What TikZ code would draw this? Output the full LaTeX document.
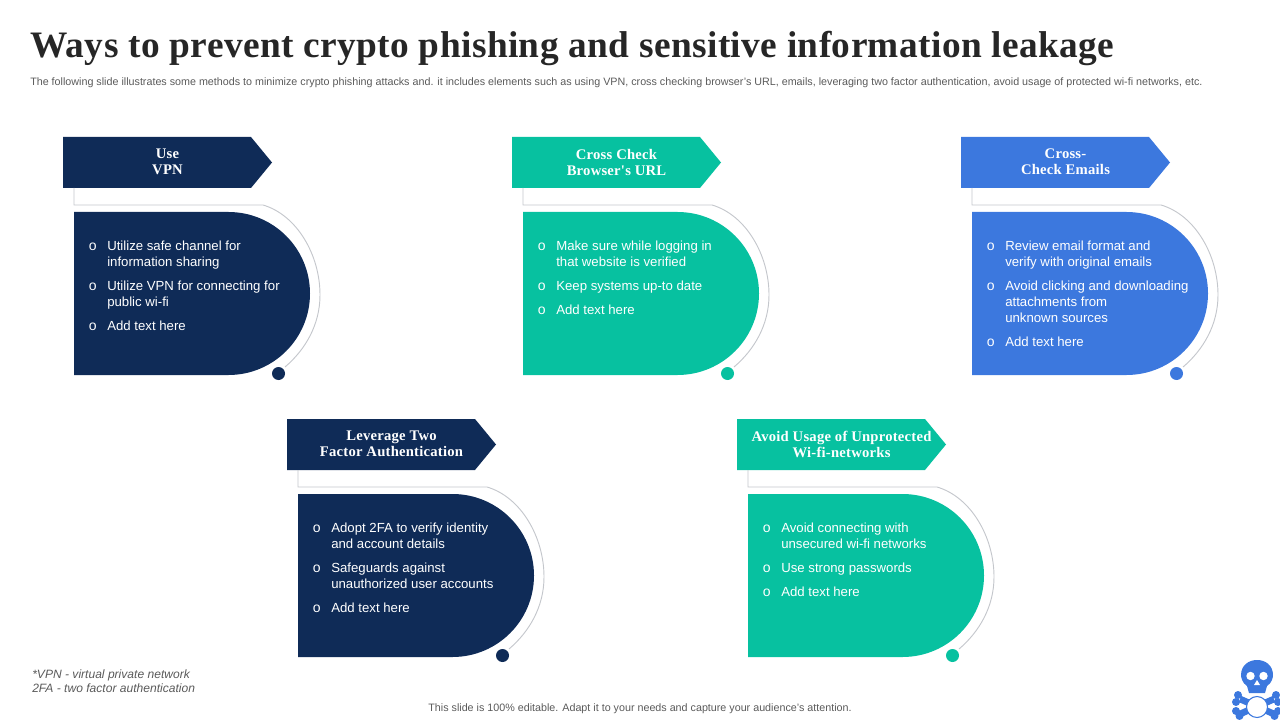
\documentclass[tikz,border=0pt]{standalone}
\usepackage{fontspec}
\setmainfont{Liberation Sans}
\newfontfamily\serifhead[LetterSpace=1.1]{Liberation Serif}
\newfontfamily\seriflabel[LetterSpace=1.5]{Liberation Serif}
\usepackage{xcolor}
\definecolor{slideNavy}{HTML}{0F2B57}
\definecolor{slideTeal}{HTML}{07C1A0}
\definecolor{slideBlue}{HTML}{3C78DE}
\definecolor{slideInk}{HTML}{262626}
\definecolor{slideGrey}{HTML}{5A5A5A}
\definecolor{slideRule}{HTML}{C4C7CC}
\tikzset{
	itemtext/.style={anchor=north west,inner sep=0,align=left,text=white,font=\fontsize{9.9}{12}\selectfont},
	itembullet/.style={anchor=north west,inner sep=0,text=white,font=\fontsize{10.5}{12}\selectfont},
	cardtitle/.style={inner sep=0,align=center,text=white,font=\seriflabel\bfseries\fontsize{11}{12}\selectfont},
	cardrule/.style={draw=slideRule,line width=0.7pt},
	footnote/.style={anchor=west,inner sep=0,text=slideGrey,font=\itshape\fontsize{9.05}{10.5}\selectfont}
}
\newcommand{\waybullet}[3]{
	\node[itembullet] (#1o) at (25.5,#2) {\strut o};
	\node[itemtext] (#1t) at (44,#2) {\strut #3};
}
\newcommand{\waycard}[6]{
	\begin{scope}[shift={(#2,#3)}]
		\coordinate (#1a) at (11,51);
		\coordinate (#1b) at (200,68);
		\coordinate (#1c) at (257,158);
		\fill[#4] (0,0) -- (188,0) -- (209,25.5) -- (188,51) -- (0,51) -- cycle;
		\node[cardtitle] (#1h) at (104.5,25) {#5};
		\draw[cardrule] (#1a) -- (11,68) -- (#1b) .. controls (234,78) and (257,118) .. (#1c) .. controls (257,188) and (242,213) .. (222,230);
		\fill[#4] (11,75) -- (165.5,75) arc[start angle=-90,end angle=90,radius=81.5] -- (11,238) -- cycle;
		\node[circle,fill=#4,minimum size=9.75pt,inner sep=0] (#1d) at (215.5,236.5) {};
		#6
	\end{scope}
}

\begin{document}
\begin{tikzpicture}[x=0.75pt,y=-0.75pt]
	\useasboundingbox (0,0) rectangle (1280,720);
	\node[anchor=base west,inner sep=0,text=slideInk,font=\serifhead\bfseries\fontsize{28}{30}\selectfont] (title) at (30,58) {Ways to prevent crypto phishing and sensitive information leakage};
	\node[anchor=base west,inner sep=0,text=slideGrey,font=\fontsize{8.05}{10}\selectfont] (intro) at (30,86) {The following slide illustrates some methods to minimize crypto phishing attacks and. it includes elements such as using VPN, cross checking browser's URL, emails, leveraging two factor authentication, avoid usage of protected wi-fi networks, etc.};

	\waycard{vpn}{63}{137}{slideNavy}{Use\\VPN}{
		\waybullet{vpnA}{102}{Utilize safe channel for\\information sharing}
		\waybullet{vpnB}{142}{Utilize VPN for connecting for\\public wi-fi}
		\waybullet{vpnC}{182}{Add text here}
	}
	\waycard{url}{512}{137}{slideTeal}{Cross Check\\Browser's URL}{
		\waybullet{urlA}{102}{Make sure while logging in\\that website is verified}
		\waybullet{urlB}{142}{Keep systems up-to date}
		\waybullet{urlC}{166}{Add text here}
	}
	\waycard{mail}{961}{137}{slideBlue}{Cross-\\Check Emails}{
		\waybullet{mailA}{102}{Review email format and\\verify with original emails}
		\waybullet{mailB}{142}{Avoid clicking and downloading\\attachments from\\unknown sources}
		\waybullet{mailC}{198}{Add text here}
	}
	\waycard{twofa}{287}{419}{slideNavy}{Leverage Two\\Factor Authentication}{
		\waybullet{twofaA}{102}{Adopt 2FA to verify identity\\and account details}
		\waybullet{twofaB}{142}{Safeguards against\\unauthorized user accounts}
		\waybullet{twofaC}{182}{Add text here}
	}
	\waycard{wifi}{737}{419}{slideTeal}{Avoid Usage of Unprotected\\Wi-fi-networks}{
		\waybullet{wifiA}{102}{Avoid connecting with\\unsecured wi-fi networks}
		\waybullet{wifiB}{142}{Use strong passwords}
		\waybullet{wifiC}{166}{Add text here}
	}

	\node[footnote] (noteA) at (32,675) {*VPN - virtual private network};
	\node[footnote] (noteB) at (32,688) {2FA - two factor authentication};
	\node[inner sep=0,text=slideGrey,font=\fontsize{8.05}{10}\selectfont] (foot) at (640,709) {This slide is 100\% editable. Adapt it to your needs and capture your audience's attention.};

	% skull
	\draw[slideBlue,line width=5pt] (1240,699) -- (1274,714);
	\draw[slideBlue,line width=5pt] (1274,699) -- (1240,714);
	\foreach \bx/\by in {1238/695,1236/702,1236/711,1239.5/716,1276/695,1278/702,1278/711,1274.5/716}
		\fill[slideBlue] (\bx,\by) circle (4);
	\fill[slideBlue] (1249,693) -- (1265,693) -- (1267,686) .. controls (1272,683) and (1273,677) .. (1273,675) .. controls (1273,665) and (1265,660) .. (1257,660) .. controls (1249,660) and (1241,665) .. (1241,675) .. controls (1241,677) and (1242,683) .. (1247,686) -- cycle;
	\fill[white] (1250.5,676) circle (4.2);
	\fill[white] (1263.5,676) circle (4.2);
	\fill[white] (1257,680) -- (1254,685) -- (1260,685) -- cycle;
	\draw[slideBlue,fill=white,line width=0.8pt] (1257,707) circle (10.5);
\end{tikzpicture}
\end{document}
